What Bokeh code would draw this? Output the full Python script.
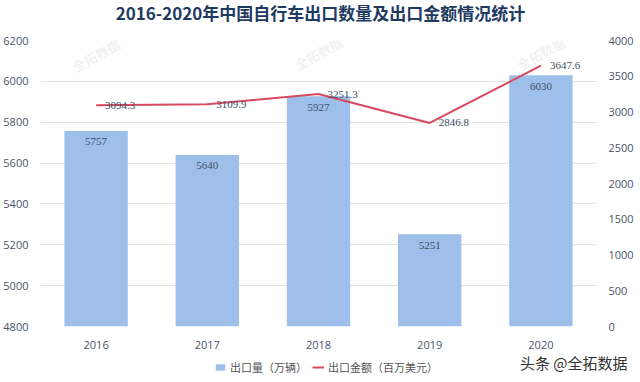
from bokeh.plotting import figure
from bokeh.layouts import column
from bokeh.models import (Range1d, LinearAxis, FixedTicker, ColumnDataSource, Legend,
                          LegendItem, Label, LabelSet)
from bokeh.embed import file_html
from bokeh.resources import INLINE

years = ["2016", "2017", "2018", "2019", "2020"]
volume = [5757, 5640, 5927, 5251, 6030]
amount = [3094.3, 3109.9, 3251.3, 2846.8, 3647.6]
left_ticks = [4800, 5000, 5200, 5400, 5600, 5800, 6000, 6200]
right_ticks = [0, 500, 1000, 1500, 2000, 2500, 3000, 3500, 4000]
title_text = "2016-2020年中国自行车出口数量及出口金额情况统计"
legend_bar = "出口量（万辆）"
legend_line = "出口金额（百万美元）"
watermark = "全拓数据"
source_mark = "头条 @全拓数据"

CJK = "Noto Sans CJK SC"
NUM = "Open Sans"
LABEL_COLOR = "#4a5568"
BAR_COLOR = "#9ebfea"
LINE_COLOR = "#d6495f"
W = 636


def blank(height):
    f = figure(width=W, height=height, x_range=Range1d(0, W), y_range=Range1d(0, height),
               output_backend="svg", toolbar_location=None, x_axis_type=None,
               y_axis_type=None, min_border=0)
    f.outline_line_color = None
    f.grid.grid_line_color = None
    f.frame_align = False
    return f


# header with title
p0 = blank(28)
p0.add_layout(Label(x=320, y=16, text=title_text, text_align="center",
                    text_baseline="middle", text_font=CJK, text_font_size="17px",
                    text_font_style="bold", text_color="#1e3a5f"))

src = ColumnDataSource(dict(
    year=years, volume=volume, amount=amount,
    vol_text=[str(v) for v in volume],
    amt_text=[f"{a:.1f}" for a in amount],
))

p = figure(x_range=years, y_range=Range1d(4800, 6200), width=W, height=323,
           output_backend="svg", toolbar_location=None,
           min_border_left=38, min_border_right=33, min_border_top=12, min_border_bottom=23)
p.frame_align = False
p.extra_y_ranges = {"amt": Range1d(0, 4000)}
p.outline_line_color = None

bars = p.vbar(x="year", top="volume", bottom=4800, width=0.57, source=src,
              fill_color=BAR_COLOR, line_color=None)
line = p.line(x="year", y="amount", source=src, y_range_name="amt",
              line_color=LINE_COLOR, line_width=2)

p.add_layout(LabelSet(x="year", y="volume", text="vol_text", source=src, y_offset=-11,
                      text_align="center", text_baseline="middle", text_font=NUM,
                      text_font_size="11px", text_color="#3d4f66"))
p.add_layout(LabelSet(x="year", y="amount", text="amt_text", source=src, y_range_name="amt",
                      x_offset=9, text_align="left", text_baseline="middle", text_font=NUM,
                      text_font_size="11px", text_color="#3d4f66"))

p.yaxis.ticker = FixedTicker(ticks=left_ticks)
ra = LinearAxis(y_range_name="amt", ticker=FixedTicker(ticks=right_ticks))
p.add_layout(ra, "right")
for ax in [p.yaxis[0], ra, p.xaxis[0]]:
    ax.axis_line_color = None
    ax.major_tick_line_color = None
    ax.minor_tick_line_color = None
    ax.major_label_text_color = LABEL_COLOR
    ax.major_label_text_font = NUM
    ax.major_label_text_font_size = "11px"
    ax.major_label_standoff = 6
p.xaxis.major_label_standoff = 8

p.xgrid.grid_line_color = None
p.ygrid.grid_line_color = "#e3e3e3"

for xi, yi in [(0, 6127), (2, 6137), (4, 6137)]:
    p.add_layout(Label(x=xi + 0.5, y=yi, text=watermark, text_align="center",
                       text_baseline="middle", angle=0.5, text_font=CJK,
                       text_font_size="13px", text_font_style="bold",
                       text_color="#999999", text_alpha=0.15))

# footer with legend and source mark
p2 = blank(25)
dbar = p2.vbar(x=[-100], top=[-100], bottom=[-101], width=1, fill_color=BAR_COLOR,
               line_color=None)
dline = p2.line(x=[-100, -99], y=[-100, -100], line_color=LINE_COLOR, line_width=2)
legend = Legend(items=[LegendItem(label=legend_bar, renderers=[dbar]),
                       LegendItem(label=legend_line, renderers=[dline])],
                orientation="horizontal", location=(214, 1),
                label_text_font=CJK, label_text_font_size="11px", label_text_color="#555555",
                glyph_width=12, glyph_height=8, label_standoff=4, spacing=5, label_height=12,
                padding=1, margin=0, border_line_color=None,
                background_fill_alpha=0)
p2.add_layout(legend, "center")
p2.add_layout(Label(x=627, y=14, text=source_mark, text_align="right",
                    text_baseline="middle", text_font=CJK, text_font_size="15px",
                    text_color="#333333"))

html = file_html(column(p0, p, p2, spacing=0), INLINE)
open("out.html", "w").write(html)
